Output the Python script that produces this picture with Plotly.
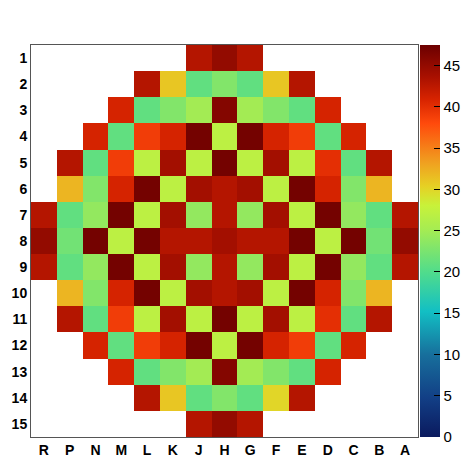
import plotly.graph_objects as go

cols = ["R","P","N","M","L","K","J","H","G","F","E","D","C","B","A"]
rows = [str(i) for i in range(1, 16)]
N = None
r1  = [N,N,N,N,N,N,43,45,43,N,N,N,N,N,N]
r2  = [N,N,N,N,43,31,21,23,21,31,43,N,N,N,N]
r3  = [N,N,N,41,21,23,25,46,25,23,21,41,N,N,N]
r4  = [N,N,41,21,39,41,47,27,47,41,39,21,41,N,N]
r5  = [N,43,21,39,27,44,27,47,27,44,27,40,21,43,N]
r6  = [N,32,23,41,47,27,44,43,44,27,47,41,23,32,N]
r7  = [43,21,24,47,27,44,24,43,24,44,27,47,24,21,43]
r8  = [45,22,47,27,47,43,43,44,43,43,47,27,47,22,45]
r9  = [43,21,24,47,27,44,24,43,24,44,27,47,24,21,43]
r10 = [N,32,23,41,47,27,44,43,44,27,47,41,23,32,N]
r11 = [N,43,21,39,27,44,27,47,27,44,27,40,21,43,N]
r12 = [N,N,41,21,39,41,47,27,47,41,39,21,41,N,N]
r13 = [N,N,N,41,21,23,25,46,25,23,21,41,N,N,N]
r14 = [N,N,N,N,43,31,21,23,21,30,43,N,N,N,N]
r15 = [N,N,N,N,N,N,43,45,43,N,N,N,N,N,N]
z = [r1,r2,r3,r4,r5,r6,r7,r8,r9,r10,r11,r12,r13,r14,r15]

cs = [[0,"#0b1a5e"],[0.1,"#123f86"],[0.21,"#176f9c"],[0.32,"#12bfc4"],[0.42,"#50dc8c"],
      [0.53,"#a6ec52"],[0.59,"#c8f23a"],[0.64,"#e6d024"],[0.7,"#f0a020"],[0.8,"#ff4a0c"],
      [0.86,"#d82400"],[0.92,"#a81000"],[1,"#6c0000"]]

fig = go.Figure(go.Heatmap(
    z=z, x=cols, y=rows, zmin=0, zmax=47.5, colorscale=cs, xgap=0, ygap=0,
    colorbar=dict(thickness=20, len=1, lenmode="fraction", y=0.5, yanchor="middle", ypad=0,
                  x=1.005, xpad=0, outlinewidth=0, tickvals=[0,5,10,15,20,25,30,35,40,45],
                  ticks="inside", ticklen=6, tickcolor="black",
                  tickfont=dict(family="Liberation Sans", size=15, color="black"))))
fig.update_layout(
    width=474, height=474, margin=dict(l=23, r=64, t=37, b=45, autoexpand=False),
    paper_bgcolor="white", plot_bgcolor="white",
    xaxis=dict(showgrid=False, zeroline=False, showline=True, linecolor="#555", mirror=True, automargin=False,
               ticks="", tickfont=dict(family="Liberation Sans", size=14, color="black")),
    yaxis=dict(autorange="reversed", showgrid=False, zeroline=False, showline=True, linecolor="#555", automargin=False,
               mirror=True, ticks="", tickfont=dict(family="Liberation Sans", size=14, color="black")),
)
fig.update_xaxes(tickprefix="<b>", ticksuffix="</b>")
fig.update_yaxes(tickprefix="<b>", ticksuffix="</b>")
fig.write_html("out.html")
